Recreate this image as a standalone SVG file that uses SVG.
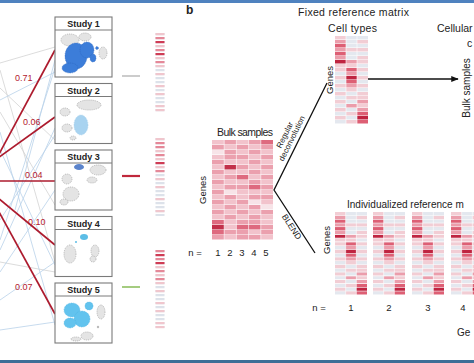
<svg xmlns="http://www.w3.org/2000/svg" xmlns:xlink="http://www.w3.org/1999/xlink" width="474" height="363" viewBox="0 0 474 363">
<style>
text{font-family:"Liberation Sans",Arial,sans-serif;fill:#222}
.hd{font-size:9px;font-weight:bold;text-anchor:middle}
.wt{font-size:9px;fill:#b3202f}
.lbl{font-size:10.5px}
.gn{font-size:9.5px;text-anchor:middle}
.num{font-size:9.5px;text-anchor:middle}
.box{fill:#fff;stroke:#7a7a7a;stroke-width:1.1}
.gr{fill:#e4e4e4;stroke:#a0a0a0;stroke-width:0.7;stroke-dasharray:1 0.9}
.lb{stroke:#b9d2ea;stroke-width:0.8;fill:none}
.lg{stroke:#d3d3d3;stroke-width:0.8;fill:none}
.rd{stroke:#ad1b2e;stroke-width:1.7;fill:none}
.b0{fill:#f7e4e8}.b1{fill:#f2c3cc}.b2{fill:#eba0ae}.b3{fill:#de6a7f}.b4{fill:#c2304a}
.m0{fill:#e4e8ef}.m1{fill:#f2cdd4}.m2{fill:#eb9dab}.m3{fill:#dd5f74}.m4{fill:#bf2440}
.s1{fill:#f0c6cd}.s2{fill:#e58898}.s3{fill:#cf3c55}
.sep{stroke:#fff;stroke-width:0.6}
</style>
<defs>
<marker id="ah" viewBox="0 0 10 10" refX="9" refY="5" markerWidth="5" markerHeight="5" orient="auto"><path d="M0,1 L10,5 L0,9 z" fill="#111"/></marker>
<symbol id="refm" viewBox="0 0 33 88" preserveAspectRatio="none">
<rect class="m0" x="0" y="0" width="33" height="88"/>
<rect class="m1" x="0" y="0" width="11" height="4"/>
<rect class="m2" x="0" y="4" width="11" height="4"/><rect class="m1" x="22" y="4" width="11" height="4"/>
<rect class="m3" x="0" y="8" width="11" height="4"/>
<rect class="m2" x="0" y="12" width="11" height="4"/><rect class="m1" x="11" y="12" width="11" height="4"/><rect class="m1" x="22" y="12" width="11" height="4"/>
<rect class="m3" x="0" y="16" width="11" height="4"/>
<rect class="m2" x="0" y="20" width="11" height="4"/><rect class="m1" x="22" y="20" width="11" height="4"/>
<rect class="m4" x="0" y="24" width="11" height="4"/><rect class="m2" x="11" y="24" width="11" height="4"/><rect class="m1" x="22" y="24" width="11" height="4"/>
<rect class="m1" x="0" y="28" width="11" height="4"/><rect class="m1" x="11" y="28" width="11" height="4"/>
<rect class="m1" x="0" y="32" width="11" height="4"/><rect class="m3" x="11" y="32" width="11" height="4"/><rect class="m1" x="22" y="32" width="11" height="4"/>
<rect class="m2" x="11" y="36" width="11" height="4"/>
<rect class="m1" x="0" y="40" width="11" height="4"/><rect class="m4" x="11" y="40" width="11" height="4"/><rect class="m1" x="22" y="40" width="11" height="4"/>
<rect class="m3" x="11" y="44" width="11" height="4"/>
<rect class="m1" x="0" y="48" width="11" height="4"/><rect class="m2" x="11" y="48" width="11" height="4"/><rect class="m1" x="22" y="48" width="11" height="4"/>
<rect class="m1" x="11" y="52" width="11" height="4"/>
<rect class="m1" x="0" y="56" width="11" height="4"/><rect class="m1" x="22" y="56" width="11" height="4"/>
<rect class="m1" x="11" y="60" width="11" height="4"/><rect class="m1" x="22" y="60" width="11" height="4"/>
<rect class="m1" x="0" y="64" width="11" height="4"/><rect class="m2" x="22" y="64" width="11" height="4"/>
<rect class="m2" x="11" y="68" width="11" height="4"/><rect class="m1" x="22" y="68" width="11" height="4"/>
<rect class="m1" x="0" y="72" width="11" height="4"/><rect class="m2" x="22" y="72" width="11" height="4"/>
<rect class="m1" x="11" y="76" width="11" height="4"/><rect class="m3" x="22" y="76" width="11" height="4"/>
<rect class="m1" x="0" y="80" width="11" height="4"/><rect class="m4" x="22" y="80" width="11" height="4"/>
<rect class="m1" x="11" y="84" width="11" height="4"/><rect class="m3" x="22" y="84" width="11" height="4"/>
<line x1="16.5" y1="3.4" x2="16.5" y2="88" stroke="#fff" stroke-width="33" stroke-dasharray="0.6 3.4"/>
<line class="sep" x1="11" y1="0" x2="11" y2="88"/><line class="sep" x1="22" y1="0" x2="22" y2="88"/>
</symbol>
</defs>

<rect x="0" y="0" width="474" height="363" fill="#fff"/>
<rect x="0" y="0" width="474" height="3" fill="#4f82bf"/>
<rect x="0" y="360" width="474" height="3" fill="#3e6e97"/>

<!-- connectors -->
<g id="connectors">
<g id="light-lines">
<line class="lg" x1="0" y1="63" x2="55" y2="47"/>
<line class="lg" x1="0" y1="88" x2="55" y2="140"/>
<line class="lg" x1="0" y1="112" x2="55" y2="205"/>
<line class="lg" x1="0" y1="262" x2="55" y2="272"/>
<line class="lg" x1="0" y1="70" x2="55" y2="262"/>
<line class="lb" x1="0" y1="100" x2="55" y2="72"/>
<line class="lb" x1="15" y1="210" x2="55" y2="60"/>
<line class="lb" x1="0" y1="240" x2="55" y2="68"/>
<line class="lb" x1="0" y1="250" x2="55" y2="128"/>
<line class="lb" x1="0" y1="272" x2="55" y2="190"/>
<line class="lb" x1="0" y1="300" x2="55" y2="262"/>
<line class="lb" x1="0" y1="330" x2="55" y2="322"/>
<line class="lb" x1="0" y1="132" x2="55" y2="325"/>
<line class="lb" x1="0" y1="150" x2="55" y2="265"/>
<line class="lb" x1="0" y1="220" x2="55" y2="135"/>
</g>
<line class="rd" x1="-2" y1="156" x2="55" y2="50"/>
<line class="rd" x1="-2" y1="158" x2="55" y2="117"/>
<line class="rd" x1="-2" y1="181" x2="55" y2="181"/>
<line class="rd" x1="-2" y1="198" x2="55" y2="245"/>
<line class="rd" x1="-2" y1="210" x2="55" y2="314"/>
<line x1="122" y1="76" x2="140" y2="76" stroke="#aaaaaa" stroke-width="1.2"/>
<line x1="122" y1="176" x2="140" y2="176" stroke="#c0283c" stroke-width="2.2"/>
<line x1="122" y1="287" x2="140" y2="287" stroke="#8fbf60" stroke-width="1.6"/>
<polyline points="327,83 274,190 315,253" fill="none" stroke="#111" stroke-width="1.3"/>
<line x1="368" y1="79" x2="458" y2="79" stroke="#111" stroke-width="1.5" marker-end="url(#ah)"/>
</g>

<!-- weights -->
<g id="weights">
<text class="wt" x="15" y="81">0.71</text>
<text class="wt" x="23" y="125">0.06</text>
<text class="wt" x="25" y="178">0.04</text>
<text class="wt" x="28" y="225">0.10</text>
<text class="wt" x="15" y="290">0.07</text>
</g>

<!-- studies -->
<g id="study1">
<rect class="box" x="55" y="17" width="57" height="60"/>
<line x1="55" y1="30" x2="112" y2="30" stroke="#7a7a7a"/>
<text class="hd" x="83.5" y="27">Study 1</text>
<ellipse class="gr" cx="70" cy="40" rx="9" ry="6"/>
<ellipse class="gr" cx="85" cy="37" rx="6" ry="4"/>
<ellipse class="gr" cx="103" cy="53" rx="4" ry="6"/>
<g fill="#3c7dd9" stroke="#2a63b8" stroke-width="0.5" stroke-dasharray="1 0.8">
<ellipse cx="76" cy="56" rx="11" ry="13"/><ellipse cx="87" cy="50" rx="7" ry="8"/><ellipse cx="70" cy="68" rx="8" ry="5"/><ellipse cx="93" cy="58" rx="3" ry="4"/><circle cx="97" cy="48" r="1.5"/>
</g>
</g>
<g id="study2">
<rect class="box" x="55" y="83.5" width="57" height="60"/>
<line x1="55" y1="96.5" x2="112" y2="96.5" stroke="#7a7a7a"/>
<text class="hd" x="83.5" y="93.5">Study 2</text>
<ellipse class="gr" cx="89" cy="105" rx="12" ry="5"/>
<ellipse class="gr" cx="65" cy="112" rx="5" ry="4"/>
<ellipse class="gr" cx="67" cy="128" rx="5" ry="4"/>
<ellipse class="gr" cx="73" cy="138" rx="3" ry="2"/>
<ellipse cx="81" cy="125" rx="7" ry="10" fill="#a8d3f0" stroke="#8cc0e4" stroke-width="0.5" stroke-dasharray="1 0.8"/>
</g>
<g id="study3">
<rect class="box" x="55" y="150" width="57" height="60"/>
<line x1="55" y1="163" x2="112" y2="163" stroke="#7a7a7a"/>
<text class="hd" x="83.5" y="160">Study 3</text>
<ellipse cx="79" cy="167" rx="5" ry="3" fill="#5b84cc"/>
<ellipse class="gr" cx="98" cy="170" rx="8" ry="5"/>
<ellipse class="gr" cx="92" cy="180" rx="5" ry="3"/>
<ellipse class="gr" cx="67" cy="179" rx="5" ry="5"/>
<ellipse class="gr" cx="71" cy="194" rx="8" ry="7"/>
<ellipse class="gr" cx="64" cy="202" rx="4" ry="3"/>
</g>
<g id="study4">
<rect class="box" x="55" y="216.5" width="57" height="60"/>
<line x1="55" y1="229.5" x2="112" y2="229.5" stroke="#7a7a7a"/>
<text class="hd" x="83.5" y="226.5">Study 4</text>
<ellipse cx="84" cy="237" rx="4" ry="3" fill="#5cbde6"/>
<circle cx="76" cy="242" r="1" fill="#5cbde6"/>
<ellipse class="gr" cx="70" cy="254" rx="6" ry="9"/>
<ellipse class="gr" cx="95" cy="251" rx="4" ry="6"/>
<ellipse class="gr" cx="93" cy="259" rx="3" ry="3"/>
</g>
<g id="study5">
<rect class="box" x="55" y="283" width="57" height="60"/>
<line x1="55" y1="296" x2="112" y2="296" stroke="#7a7a7a"/>
<text class="hd" x="83.5" y="293">Study 5</text>
<g fill="#62c3ee" stroke="#45acdc" stroke-width="0.5" stroke-dasharray="1 0.8">
<ellipse cx="72" cy="310" rx="8" ry="7"/><ellipse cx="82" cy="319" rx="8" ry="8"/><ellipse cx="70" cy="323" rx="6" ry="5"/><ellipse cx="89" cy="306" rx="4" ry="4"/>
</g>
<ellipse class="gr" cx="101" cy="312" rx="4" ry="7"/>
<ellipse class="gr" cx="87" cy="336" rx="6" ry="4"/>
<ellipse class="gr" cx="76" cy="339" rx="5" ry="2"/>
<circle cx="98" cy="327" r="1.2" fill="#bbb"/>
</g>

<!-- expression bars -->
<g id="bar1">
<line x1="160" y1="33" x2="160" y2="112" stroke="#dde2ea" stroke-width="9" stroke-dasharray="2.2 1.8"/>
<rect class="s1" x="155.5" y="33" width="9" height="2.2"/><rect class="s2" x="155.5" y="37" width="9" height="2.2"/><rect class="s3" x="155.5" y="41" width="9" height="2.2"/><rect class="s1" x="155.5" y="45" width="9" height="2.2"/><rect class="s2" x="155.5" y="49" width="9" height="2.2"/><rect class="s3" x="155.5" y="53" width="9" height="2.2"/><rect class="s1" x="155.5" y="57" width="9" height="2.2"/><rect class="s2" x="155.5" y="61" width="9" height="2.2"/><rect class="s1" x="155.5" y="65" width="9" height="2.2"/><rect class="s1" x="155.5" y="73" width="9" height="2.2"/><rect class="s1" x="155.5" y="85" width="9" height="2.2"/><rect class="s1" x="155.5" y="93" width="9" height="2.2"/><rect class="s1" x="155.5" y="105" width="9" height="2.2"/><rect class="s1" x="155.5" y="109" width="9" height="2.2"/>
</g>
<g id="bar2">
<line x1="160" y1="138" x2="160" y2="216" stroke="#dde2ea" stroke-width="9" stroke-dasharray="2.2 1.8"/>
<rect class="s1" x="155.5" y="138" width="9" height="2.2"/><rect class="s2" x="155.5" y="142" width="9" height="2.2"/><rect class="s2" x="155.5" y="146" width="9" height="2.2"/><rect class="s1" x="155.5" y="150" width="9" height="2.2"/><rect class="s2" x="155.5" y="154" width="9" height="2.2"/><rect class="s1" x="155.5" y="158" width="9" height="2.2"/><rect class="s3" x="155.5" y="162" width="9" height="2.2"/><rect class="s1" x="155.5" y="166" width="9" height="2.2"/><rect class="s2" x="155.5" y="170" width="9" height="2.2"/><rect class="s1" x="155.5" y="178" width="9" height="2.2"/><rect class="s1" x="155.5" y="186" width="9" height="2.2"/><rect class="s1" x="155.5" y="198" width="9" height="2.2"/><rect class="s1" x="155.5" y="210" width="9" height="2.2"/>
</g>
<g id="bar3">
<line x1="160" y1="250" x2="160" y2="328" stroke="#dde2ea" stroke-width="9" stroke-dasharray="2.2 1.8"/>
<rect class="s2" x="155.5" y="250" width="9" height="2.2"/><rect class="s3" x="155.5" y="254" width="9" height="2.2"/><rect class="s2" x="155.5" y="258" width="9" height="2.2"/><rect class="s3" x="155.5" y="262" width="9" height="2.2"/><rect class="s1" x="155.5" y="266" width="9" height="2.2"/><rect class="s2" x="155.5" y="270" width="9" height="2.2"/><rect class="s1" x="155.5" y="274" width="9" height="2.2"/><rect class="s2" x="155.5" y="278" width="9" height="2.2"/><rect class="s1" x="155.5" y="282" width="9" height="2.2"/><rect class="s1" x="155.5" y="290" width="9" height="2.2"/><rect class="s1" x="155.5" y="302" width="9" height="2.2"/><rect class="s1" x="155.5" y="310" width="9" height="2.2"/><rect class="s1" x="155.5" y="322" width="9" height="2.2"/><rect class="s1" x="155.5" y="326" width="9" height="2.2"/>
</g>

<!-- panel b -->
<text x="186" y="14" style="font-size:12px;font-weight:bold">b</text>
<text x="298" y="16" style="font-size:10.5px" textLength="111">Fixed reference matrix</text>

<g id="bulk-matrix">
<text class="lbl" x="217" y="136" textLength="56">Bulk samples</text>
<rect class="b1" x="212" y="140" width="61" height="100"/>
<rect class="b2" x="224.2" y="140" width="12.2" height="5"/><rect class="b2" x="248.6" y="140" width="12.2" height="5"/><rect class="b3" x="260.8" y="140" width="12.2" height="5"/>
<rect class="b2" x="212" y="145" width="12.2" height="5"/><rect class="b2" x="236.4" y="145" width="12.2" height="5"/><rect class="b2" x="260.8" y="145" width="12.2" height="5"/>
<rect class="b0" x="212" y="150" width="12.2" height="5"/><rect class="b2" x="224.2" y="150" width="12.2" height="5"/><rect class="b2" x="248.6" y="150" width="12.2" height="5"/>
<rect class="b2" x="224.2" y="155" width="12.2" height="5"/><rect class="b2" x="236.4" y="155" width="12.2" height="5"/><rect class="b2" x="260.8" y="155" width="12.2" height="5"/>
<rect class="b2" x="212" y="160" width="12.2" height="5"/><rect class="b2" x="248.6" y="160" width="12.2" height="5"/>
<rect class="b4" x="224.2" y="165" width="12.2" height="5"/><rect class="b2" x="236.4" y="165" width="12.2" height="5"/><rect class="b2" x="260.8" y="165" width="12.2" height="5"/>
<rect class="b2" x="212" y="170" width="12.2" height="5"/><rect class="b2" x="248.6" y="170" width="12.2" height="5"/>
<rect class="b2" x="224.2" y="175" width="12.2" height="5"/><rect class="b3" x="236.4" y="175" width="12.2" height="5"/><rect class="b2" x="260.8" y="175" width="12.2" height="5"/>
<rect class="b2" x="212" y="180" width="12.2" height="5"/><rect class="b2" x="248.6" y="180" width="12.2" height="5"/>
<rect class="b2" x="224.2" y="185" width="12.2" height="5"/><rect class="b2" x="236.4" y="185" width="12.2" height="5"/><rect class="b3" x="248.6" y="185" width="12.2" height="5"/><rect class="b2" x="260.8" y="185" width="12.2" height="5"/>
<rect class="b2" x="212" y="190" width="12.2" height="5"/><rect class="b0" x="224.2" y="190" width="12.2" height="5"/>
<rect class="b2" x="224.2" y="195" width="12.2" height="5"/><rect class="b2" x="248.6" y="195" width="12.2" height="5"/><rect class="b2" x="260.8" y="195" width="12.2" height="5"/>
<rect class="b2" x="212" y="200" width="12.2" height="5"/><rect class="b2" x="236.4" y="200" width="12.2" height="5"/><rect class="b0" x="248.6" y="200" width="12.2" height="5"/>
<rect class="b2" x="224.2" y="205" width="12.2" height="5"/><rect class="b2" x="248.6" y="205" width="12.2" height="5"/><rect class="b0" x="260.8" y="205" width="12.2" height="5"/>
<rect class="b2" x="212" y="210" width="12.2" height="5"/><rect class="b2" x="236.4" y="210" width="12.2" height="5"/><rect class="b2" x="260.8" y="210" width="12.2" height="5"/>
<rect class="b2" x="224.2" y="215" width="12.2" height="5"/><rect class="b2" x="248.6" y="215" width="12.2" height="5"/>
<rect class="b3" x="212" y="220" width="12.2" height="5"/><rect class="b2" x="236.4" y="220" width="12.2" height="5"/><rect class="b2" x="248.6" y="220" width="12.2" height="5"/>
<rect class="b4" x="212" y="225" width="12.2" height="5"/><rect class="b3" x="236.4" y="225" width="12.2" height="5"/><rect class="b3" x="248.6" y="225" width="12.2" height="5"/><rect class="b2" x="260.8" y="225" width="12.2" height="5"/>
<rect class="b3" x="212" y="230" width="12.2" height="5"/><rect class="b2" x="224.2" y="230" width="12.2" height="5"/><rect class="b2" x="236.4" y="230" width="12.2" height="5"/><rect class="b2" x="260.8" y="230" width="12.2" height="5"/>
<rect class="b2" x="212" y="235" width="12.2" height="5"/><rect class="b2" x="236.4" y="235" width="12.2" height="5"/><rect class="b2" x="248.6" y="235" width="12.2" height="5"/>
<line x1="242.5" y1="144.4" x2="242.5" y2="240" stroke="#fff" stroke-width="61" stroke-dasharray="0.6 4.4"/>
<line class="sep" x1="224.2" y1="140" x2="224.2" y2="240"/><line class="sep" x1="236.4" y1="140" x2="236.4" y2="240"/><line class="sep" x1="248.6" y1="140" x2="248.6" y2="240"/><line class="sep" x1="260.8" y1="140" x2="260.8" y2="240"/>
<text class="gn" transform="translate(206,190) rotate(-90)">Genes</text>
<text class="num" x="195" y="256">n =</text>
<text class="num" x="218" y="256">1</text><text class="num" x="230" y="256">2</text><text class="num" x="242" y="256">3</text><text class="num" x="254" y="256">4</text><text class="num" x="266" y="256">5</text>
</g>

<g id="method-labels">
<g transform="translate(297,141) rotate(-63.6)">
<text x="0" y="-11" style="font-size:8px;text-anchor:middle">Regular</text>
<text x="0" y="-3" style="font-size:8px;text-anchor:middle">deconvolution</text>
</g>
<text transform="translate(296,224) rotate(57)" x="0" y="8" style="font-size:8.5px;text-anchor:middle">BLEND</text>
</g>

<g id="fixed-matrix">
<text class="lbl" x="328" y="32" textLength="49">Cell types</text>
<use xlink:href="#refm" href="#refm" x="335" y="36" width="33" height="88"/>
<text class="gn" transform="translate(333,80) rotate(-90)">Genes</text>
</g>

<g id="cellular-output">
<text class="lbl" x="437" y="32">Cellular</text>
<text class="lbl" x="467" y="47">c</text>
<text class="gn" transform="translate(470,88) rotate(-90)" style="font-size:10px">Bulk samples</text>
</g>

<g id="individual-matrices">
<text class="lbl" x="347" y="208" style="font-size:10px">Individualized reference m</text>
<use xlink:href="#refm" href="#refm" x="335" y="212" width="32" height="83"/>
<use xlink:href="#refm" href="#refm" x="373" y="212" width="32" height="83"/>
<use xlink:href="#refm" href="#refm" x="412" y="212" width="32" height="83"/>
<use xlink:href="#refm" href="#refm" x="451" y="212" width="32" height="83"/>
<text class="gn" transform="translate(330,240) rotate(-90)">Genes</text>
<text class="num" x="319" y="311">n =</text>
<text class="num" x="351" y="311">1</text><text class="num" x="389" y="311">2</text><text class="num" x="428" y="311">3</text><text class="num" x="463" y="311">4</text>
<text x="457" y="336" style="font-size:10px">Ge</text>
</g>
</svg>
